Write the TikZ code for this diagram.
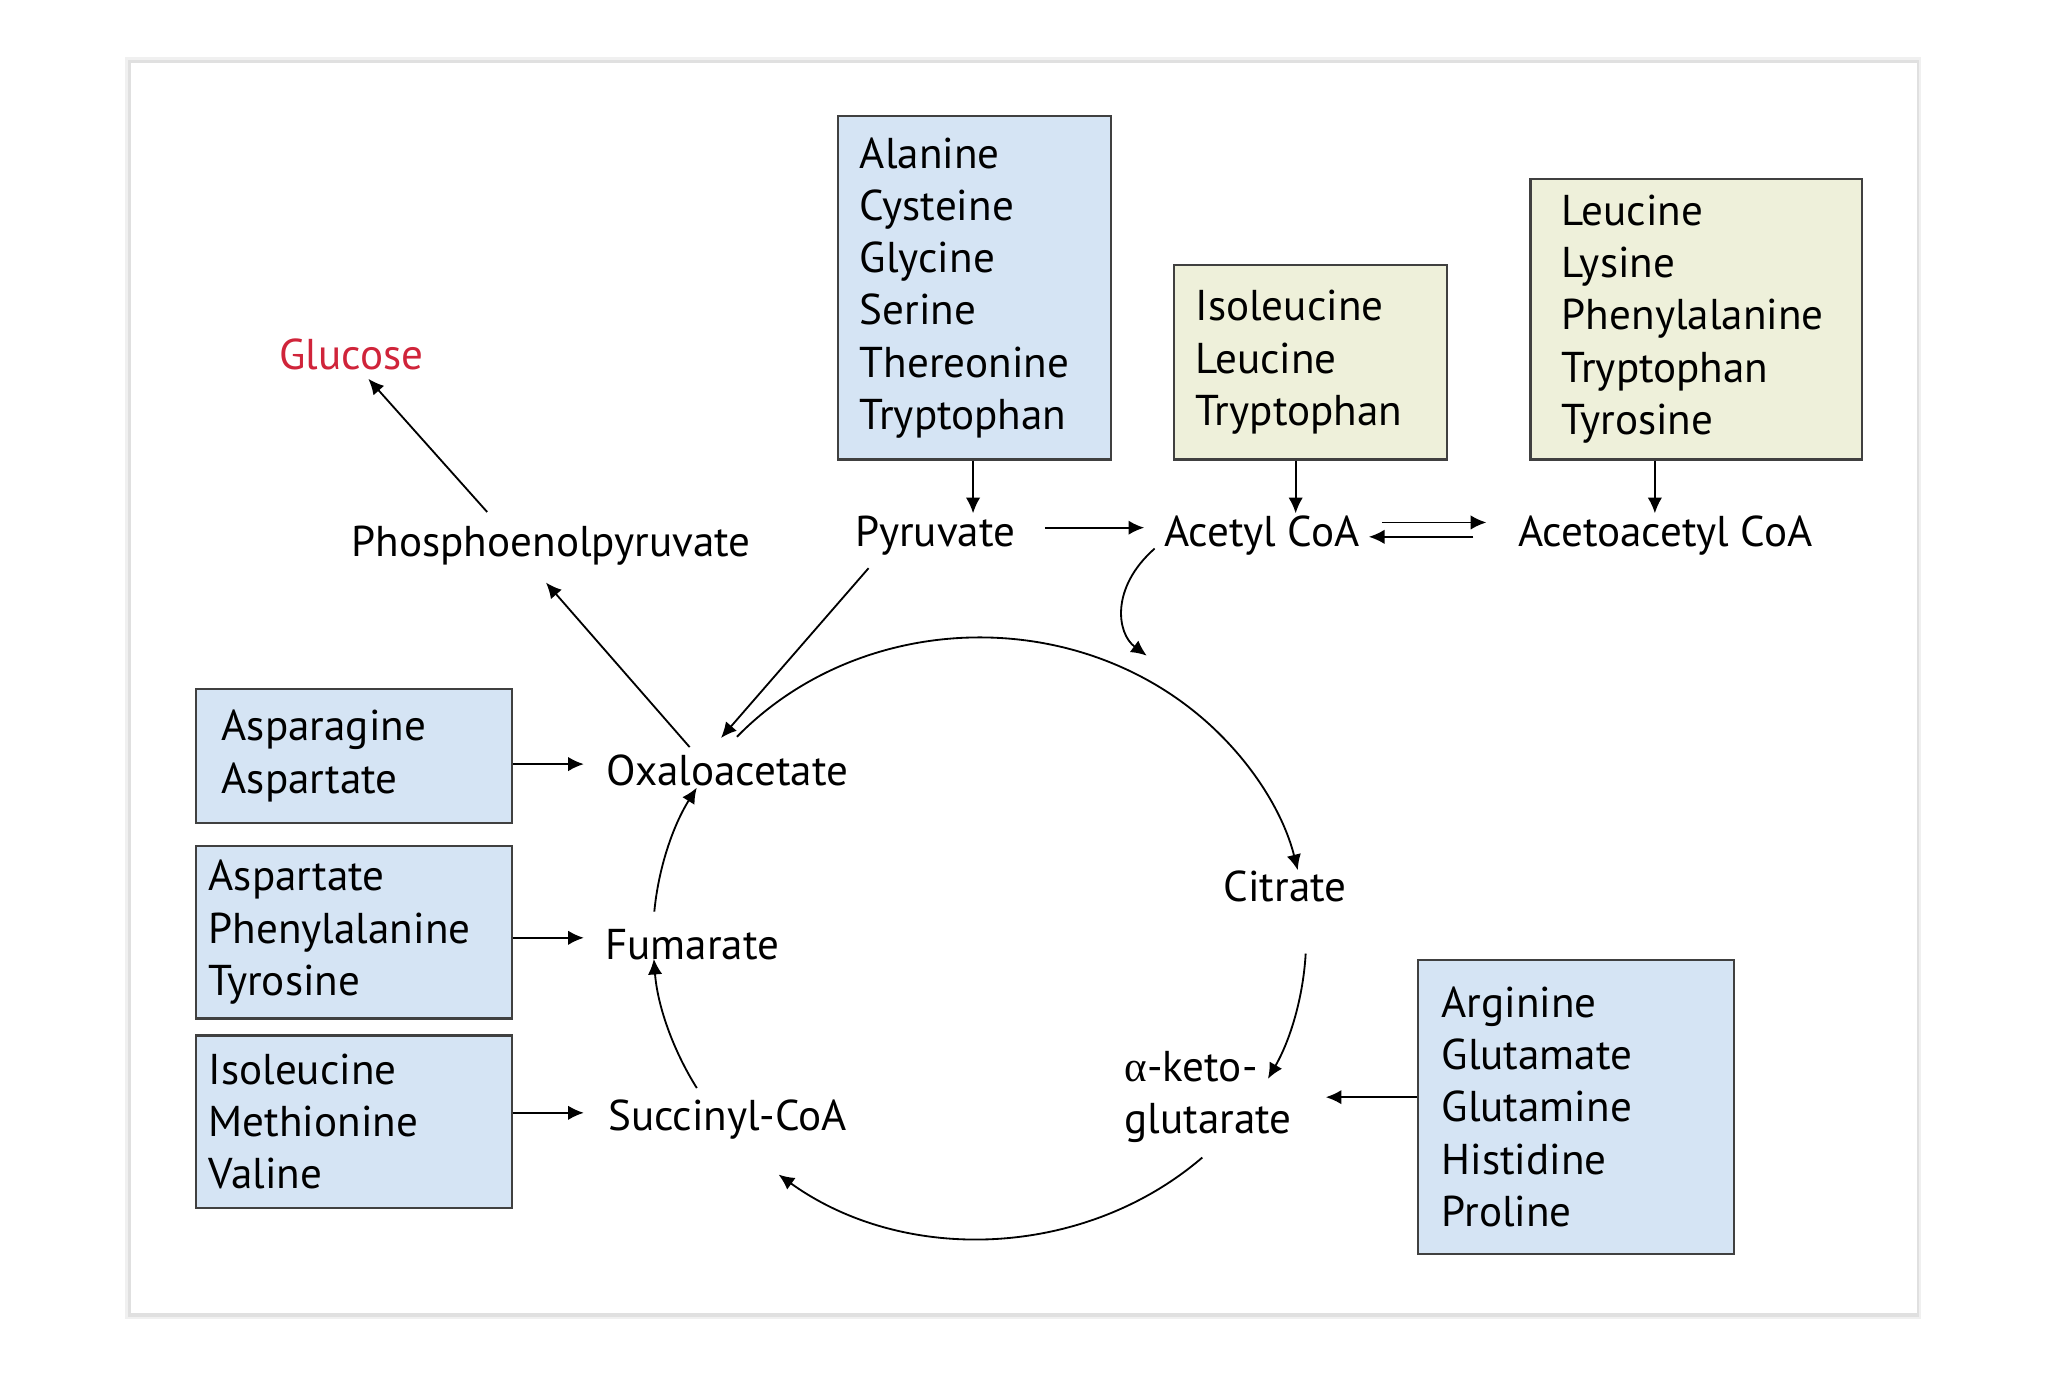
\documentclass[tikz,border=0pt]{standalone}
\usepackage{fontspec}
\setmainfont{PT Sans}
\newfontfamily\gkfont{Liberation Serif}
\usetikzlibrary{arrows.meta,shadows}
\definecolor{bfill}{HTML}{D5E4F4}
\definecolor{yfill}{HTML}{EEF0DA}
\definecolor{glc}{HTML}{D0243A}
\begin{document}
\begin{tikzpicture}[x=0.5pt,y=-0.5pt,
  box/.style={draw=black!75,line width=0.8pt,anchor=north west,align=left,inner xsep=8pt,inner ysep=0pt,font=\fontsize{16.5}{20}\selectfont},
  lbl/.style={font=\fontsize{16.5}{20}\selectfont,inner sep=1pt},
  arr/.style={-{Latex[length=6pt,width=5.5pt]},line width=0.7pt}]
\useasboundingbox (0,0) rectangle (1568,1067);
\fill[black!6] (96,44) rectangle (1471,1010);
\fill[black!12] (98,46) rectangle (1469,1008);
\node[fill=white,minimum width=683.5pt,minimum height=478.5pt,anchor=north west,inner sep=0pt] (frame) at (100,48) {};
% boxes
\node[box,fill=bfill,minimum width=104.5pt,minimum height=131.5pt,text width=88pt] (b1) at (641,88) {Alanine\\Cysteine\\Glycine\\Serine\\Thereonine\\Tryptophan};
\node[box,fill=yfill,minimum width=104.5pt,minimum height=74.5pt,text width=88pt] (y1) at (898,202) {Isoleucine\\Leucine\\Tryptophan};
\node[box,fill=yfill,minimum width=127pt,minimum height=107.5pt,text width=103pt,inner xsep=12pt] (y2) at (1171,136) {Leucine\\Lysine\\Phenylalanine\\Tryptophan\\Tyrosine};
\node[box,fill=bfill,minimum width=121pt,minimum height=51pt,text width=101pt,inner xsep=10pt] (b2) at (149,527) {Asparagine\\Aspartate};
\node[box,fill=bfill,minimum width=121pt,minimum height=66pt,text width=111pt,inner xsep=5pt] (b3) at (149,647) {Aspartate\\Phenylalanine\\Tyrosine};
\node[box,fill=bfill,minimum width=121pt,minimum height=66pt,text width=111pt,inner xsep=5pt] (b4) at (149,792) {Isoleucine\\Methionine\\Valine};
\node[box,fill=bfill,minimum width=121pt,minimum height=112.5pt,text width=103pt,inner xsep=9pt] (b5) at (1085,734) {Arginine\\Glutamate\\Glutamine\\Histidine\\Proline};
% labels
\node[lbl,text=glc] (glu) at (269,271) {Glucose};
\node[lbl] (pep) at (422,418) {Phosphoenolpyruvate};
\node[lbl] (pyr) at (716,410) {Pyruvate};
\node[lbl] (acoa) at (966,410) {Acetyl CoA};
\node[lbl] (aacoa) at (1275,410) {Acetoacetyl CoA};
\node[lbl] (oaa) at (557,590) {Oxaloacetate};
\node[lbl] (fum) at (530,723) {Fumarate};
\node[lbl] (suc) at (557,857) {Succinyl-CoA};
\node[lbl] (cit) at (984,679) {Citrate};
\node[lbl,align=left] (akg) at (925,840) {{\gkfont α}-keto-\\glutarate};
% coordinates
\coordinate (c0) at (750,718);
\coordinate (a1) at (373,392); \coordinate (a1e) at (282,290);
\coordinate (a2) at (528,572); \coordinate (a2e) at (418,446);
\coordinate (a3) at (665,435); \coordinate (a3e) at (552,565);
% arrows
\draw[arr] (a1) -- (a1e);
\draw[arr] (a2) -- (a2e);
\draw[arr] (a3) -- (a3e);
\draw[arr] (b1.south -| 745,0) -- (745,393);
\draw[arr] (800,404) -- (876,404);
\draw[arr] (y1.south -| 992,0) -- (992,393);
\draw[arr] (y2.south -| 1267,0) -- (1267,393);
\draw[arr] (1058,400) -- (1138,400);
\draw[arr] (1128,411) -- (1048,411);
\draw[arr] (884,420) .. controls (850,450) and (855,485) .. (878,502);
\draw[arr] (b2.east |- 0,585) -- (447,585);
\draw[arr] (b3.east |- 0,718) -- (447,718);
\draw[arr] (b4.east |- 0,852) -- (447,852);
\draw[arr] (b5.west |- 0,840) -- (1015,840);
% cycle
\draw[arr] ([shift={(138:250 and -230)}]c0) arc[start angle=138,end angle=13,x radius=250,y radius=-230];
\draw[arr] ([shift={(-3:250 and -230)}]c0) arc[start angle=-3,end angle=-28,x radius=250,y radius=-230];
\draw[arr] ([shift={(-47:250 and -230)}]c0) arc[start angle=-47,end angle=-128,x radius=250,y radius=-230];
\draw[arr] ([shift={(-150:250 and -230)}]c0) arc[start angle=-150,end angle=-176,x radius=250,y radius=-230];
\draw[arr] ([shift={(175:250 and -230)}]c0) arc[start angle=175,end angle=150,x radius=250,y radius=-230];
\end{tikzpicture}
\end{document}
